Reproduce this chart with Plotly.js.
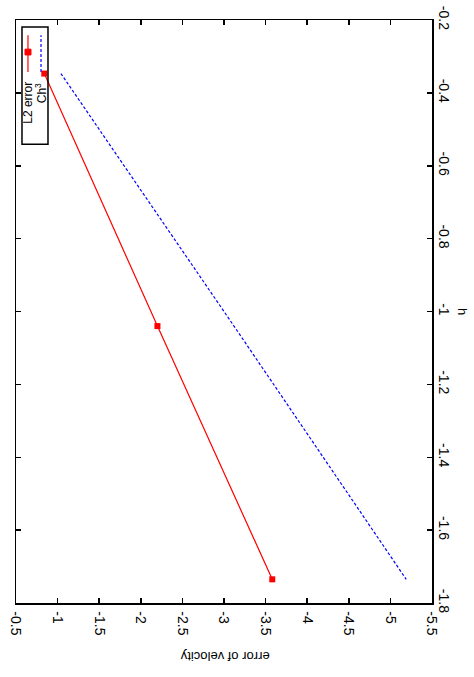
<!DOCTYPE html>
<html>
<head>
<meta charset="utf-8">
<script src="https://cdn.plot.ly/plotly-3.0.1.min.js"></script>
<style>
  html, body { margin: 0; padding: 0; background: #fff; }
  #myDiv { width: 474px; height: 677px; }
</style>
</head>
<body>
<div id="myDiv"></div>
<script>
// log h (natural log) and log of the velocity error
var logH = [-0.347, -1.040, -1.735];
var l2Error = [-0.84, -2.20, -3.58];
var ch3 = [-1.04, -3.12, -5.19];

// tick labels (hyphen minus, like gnuplot)
var errTicks = [-0.5, -1, -1.5, -2, -2.5, -3, -3.5, -4, -4.5, -5, -5.5];
var errTickText = ['-0.5', '-1', '-1.5', '-2', '-2.5', '-3', '-3.5', '-4', '-4.5', '-5', '-5.5'];
var hTicks = [-0.2, -0.4, -0.6, -0.8, -1, -1.2, -1.4, -1.6, -1.8];
var hTickText = ['-0.2', '-0.4', '-0.6', '-0.8', '-1', '-1.2', '-1.4', '-1.6', '-1.8'];

var font = 'Liberation Sans, Arial, sans-serif';

var trace1 = {
    x: l2Error,
    y: logH,
    name: 'L2 error',
    mode: 'lines+markers',
    type: 'scatter',
    line: { color: '#ff0000', width: 1.2 },
    marker: { color: '#ff0000', symbol: 'square', size: 6 }
};

var trace2 = {
    x: ch3,
    y: logH,
    name: 'Ch^3',
    mode: 'lines',
    type: 'scatter',
    line: { color: '#0000ff', width: 1.2, dash: '3px,2px' }
};

var data = [trace1, trace2];

var layout = {
    width: 474,
    height: 677,
    margin: { l: 16, r: 42, t: 20, b: 74 },
    showlegend: false,
    paper_bgcolor: '#fff',
    plot_bgcolor: '#fff',
    font: { family: font, size: 14, color: '#000' },
    xaxis: {
        range: [-0.5, -5.5],
        tickvals: errTicks,
        ticktext: errTickText,
        tickangle: 90,
        ticks: 'inside',
        ticklen: 5,
        tickwidth: 1.5,
        tickcolor: '#000',
        mirror: 'allticks',
        showline: true,
        linewidth: 1.5,
        linecolor: '#000',
        showgrid: false,
        zeroline: false,
        ticklabelstandoff: 4
    },
    yaxis: {
        side: 'right',
        range: [-1.8, -0.2],
        tickvals: hTicks,
        ticktext: hTickText,
        tickangle: 90,
        ticks: 'inside',
        ticklen: 5,
        tickwidth: 1.5,
        tickcolor: '#000',
        mirror: 'allticks',
        showline: true,
        linewidth: 1.5,
        linecolor: '#000',
        showgrid: false,
        zeroline: false,
        ticklabelstandoff: 0
    },
    annotations: [
        // axis titles, turned like the printed page
        {
            xref: 'paper', yref: 'paper', x: 0.502, y: -0.093,
            text: 'error of velocity', textangle: 180, showarrow: false,
            xanchor: 'center', yanchor: 'middle',
            font: { family: font, size: 13 }
        },
        {
            xref: 'paper', yref: 'paper', x: 1.0745, y: 0.499,
            text: 'h', textangle: 90, showarrow: false,
            xanchor: 'center', yanchor: 'middle',
            font: { family: font, size: 13 }
        },
        // legend labels
        {
            xref: 'paper', yref: 'paper', x: 0.0288, y: 0.858,
            text: 'L2 error', textangle: -90, showarrow: false,
            xanchor: 'center', yanchor: 'middle',
            font: { family: font, size: 12 }
        },
        {
            xref: 'paper', yref: 'paper', x: 0.062, y: 0.874,
            text: 'Ch<sup>3</sup>', textangle: -90, showarrow: false,
            xanchor: 'center', yanchor: 'middle',
            font: { family: font, size: 12 }
        }
    ],
    shapes: [
        // legend box
        {
            type: 'rect', xref: 'paper', yref: 'paper',
            x0: 0.0144, x1: 0.0769, y0: 0.787, y1: 0.988,
            line: { color: '#000', width: 1.5 }
        },
        // L2 error sample
        {
            type: 'line', xref: 'paper', yref: 'paper',
            x0: 0.0288, x1: 0.0288, y0: 0.911, y1: 0.974,
            line: { color: '#ff0000', width: 1.2 }
        },
        {
            type: 'rect', xref: 'paper', yref: 'paper',
            x0: 0.0216, x1: 0.036, y0: 0.940, y1: 0.950,
            fillcolor: '#ff0000', line: { color: '#ff0000', width: 1 }
        },
        // Ch^3 sample
        {
            type: 'line', xref: 'paper', yref: 'paper',
            x0: 0.0601, x1: 0.0601, y0: 0.911, y1: 0.974,
            line: { color: '#0000ff', width: 1.2, dash: '3px,2px' }
        }
    ]
};

Plotly.newPlot('myDiv', data, layout, { displayModeBar: false, staticPlot: true });
</script>
</body>
</html>
